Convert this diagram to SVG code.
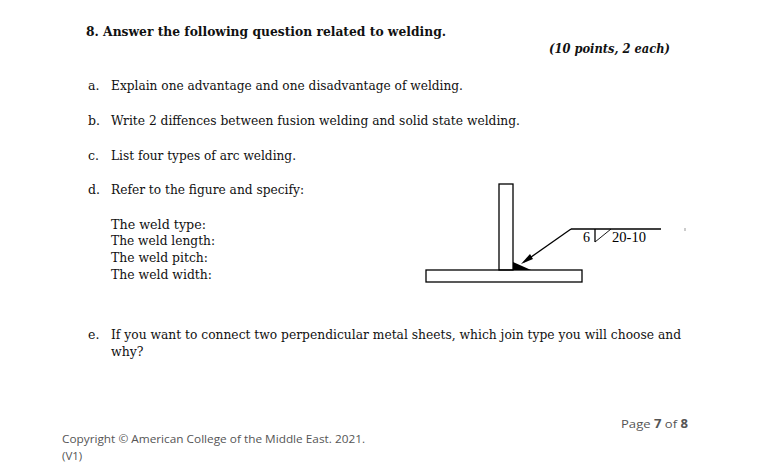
<svg xmlns="http://www.w3.org/2000/svg" width="757" height="471" viewBox="0 0 757 471">
<style>
.t{font-family:"DejaVu Serif","Liberation Serif",serif;font-size:12.5px;fill:#111}
.b{font-weight:bold}
.f{font-family:"Liberation Serif",serif;font-size:14px;fill:#000}
.c{font-family:"Open Sans","Liberation Sans",sans-serif;font-size:11.5px;fill:#555}
.s{fill:none;stroke:#000;stroke-width:1.3}
</style>
<rect width="757" height="471" fill="#fff"/>
<text class="t b" x="86" y="36" textLength="360" lengthAdjust="spacingAndGlyphs">8.  Answer the following question related to welding.</text>
<text class="t b" x="549" y="53" font-style="italic" textLength="121" lengthAdjust="spacingAndGlyphs">(10 points, 2 each)</text>
<text class="t" x="88" y="90">a.</text><text class="t" x="111" y="90" textLength="352" lengthAdjust="spacingAndGlyphs">Explain one advantage and one disadvantage of welding.</text>
<text class="t" x="88" y="125">b.</text><text class="t" x="111" y="125" textLength="409" lengthAdjust="spacingAndGlyphs">Write 2 diffences between fusion welding and solid state welding.</text>
<text class="t" x="88" y="160">c.</text><text class="t" x="111" y="160" textLength="185" lengthAdjust="spacingAndGlyphs">List four types of arc welding.</text>
<text class="t" x="88" y="194">d.</text><text class="t" x="111" y="194" textLength="193" lengthAdjust="spacingAndGlyphs">Refer to the figure and specify:</text>
<text class="t" x="111" y="229" textLength="95" lengthAdjust="spacingAndGlyphs">The weld type:</text>
<text class="t" x="111" y="245" textLength="104" lengthAdjust="spacingAndGlyphs">The weld length:</text>
<text class="t" x="111" y="262" textLength="97" lengthAdjust="spacingAndGlyphs">The weld pitch:</text>
<text class="t" x="111" y="279" textLength="101" lengthAdjust="spacingAndGlyphs">The weld width:</text>
<text class="t" x="88" y="339">e.</text><text class="t" x="111" y="339" textLength="570" lengthAdjust="spacingAndGlyphs">If you want to connect two perpendicular metal sheets, which join type you will choose and</text>
<text class="t" x="111" y="356">why?</text>
<g id="figure">
<rect class="s" x="499" y="184" width="14" height="86"/>
<rect class="s" x="426" y="270" width="156" height="12"/>
<polygon points="513,262 513,270 531,270" fill="#000"/>
</g>
<g id="connectors">
<line class="s" x1="571" y1="229" x2="661" y2="229"/>
<line class="s" x1="571" y1="229" x2="524" y2="262"/>
<polygon points="521,264 530,254 533,259" fill="#000"/>
<line class="s" x1="595" y1="229" x2="595" y2="242"/>
<line x1="595" y1="242" x2="611" y2="229" stroke="#000" stroke-width="0.9"/>
<line x1="685" y1="228" x2="685" y2="231" stroke="#999" stroke-width="1"/>
</g>
<text class="f" x="583" y="242">6</text>
<text class="f" x="612" y="242" textLength="34" lengthAdjust="spacingAndGlyphs">20-10</text>
<text class="c" x="621" y="428" textLength="67" lengthAdjust="spacingAndGlyphs">Page <tspan font-weight="bold">7</tspan> of <tspan font-weight="bold">8</tspan></text>
<text class="c" x="62" y="443" textLength="303" lengthAdjust="spacingAndGlyphs">Copyright © American College of the Middle East. 2021.</text>
<text class="c" x="62" y="460">(V1)</text>
</svg>
